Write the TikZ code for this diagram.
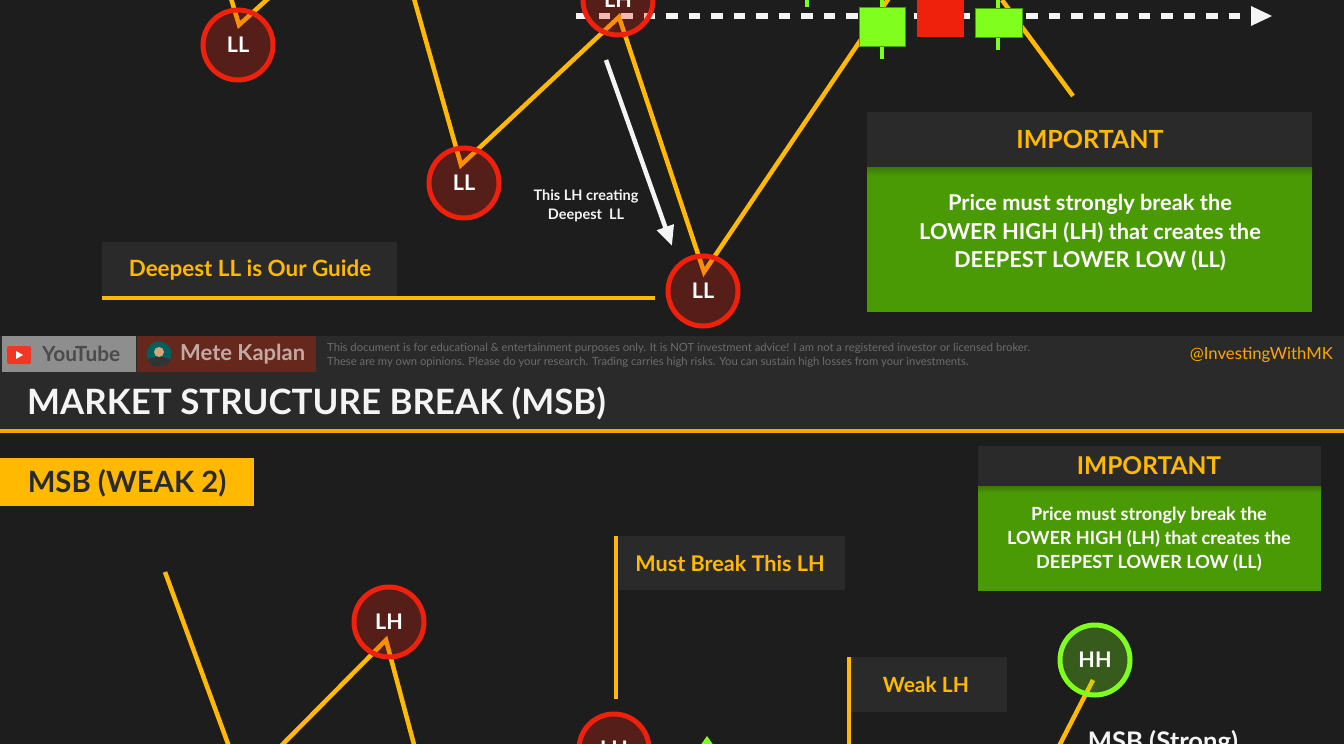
\documentclass[tikz,border=0pt]{standalone}
\usepackage{fontspec}
\setmainfont{Lato}
\usetikzlibrary{arrows.meta}
\definecolor{bgc}{HTML}{1D1D1D}
\definecolor{panel}{HTML}{2A2A2A}
\definecolor{amber}{HTML}{FFB900}
\definecolor{orangeline}{HTML}{FFA500}
\definecolor{gbox}{HTML}{4A9A06}
\definecolor{gshade}{HTML}{3C7A08}
\definecolor{lime}{HTML}{80FF1E}
\definecolor{redc}{HTML}{F0210C}
\definecolor{ytgray}{HTML}{8E8E8E}
\definecolor{mkred}{HTML}{66281C}
\definecolor{discl}{HTML}{6C6C6C}
\definecolor{whitish}{HTML}{F4F4F4}
\tikzset{
 x=1pt,y=-1pt,
 leg/.style={draw=amber,line width=4.5pt},
 bar/.style={draw=amber,line width=4pt},
 bearnode/.style={circle,draw=redc,line width=5pt,fill=redc,fill opacity=.27,draw opacity=1,text opacity=1,minimum size=70pt,inner sep=0pt,text=white,font=\fontsize{21.5}{23}\selectfont\bfseries},
 bullnode/.style={circle,draw=lime,line width=5pt,fill=lime,fill opacity=.27,draw opacity=1,text opacity=1,minimum size=70pt,inner sep=0pt,text=white,font=\fontsize{21.5}{23}\selectfont\bfseries},
 tag/.style={text=amber,font=\fontsize{21}{24}\selectfont\bfseries,inner sep=0pt},
 panelbox/.style={fill=panel,draw=none},
 greenbody/.style={fill=lime,draw=gbox,line width=0.6pt},
 wick/.style={draw=lime,line width=4.6pt},
 impbig/.style={text=white,align=center,font=\fontsize{21.8}{28.4}\selectfont\bfseries,inner sep=0pt},
 impsmall/.style={text=white,align=center,font=\fontsize{18.1}{23.8}\selectfont\bfseries,inner sep=0pt},
 imphead/.style={text=amber,inner sep=0pt,font=\fontsize{25}{28}\selectfont\bfseries},
 note/.style={text=whitish,align=center,font=\fontsize{14.5}{19}\selectfont\bfseries,inner sep=0pt},
 disc/.style={text=discl,anchor=west,inner sep=0pt,font=\fontsize{11.25}{13}\selectfont},
}
\begin{document}
\begin{tikzpicture}
\useasboundingbox (0,0) rectangle (1344,744);
\clip (0,0) rectangle (1344,744);
\fill[bgc] (0,0) rectangle (1344,744);
% coordinates
\coordinate (a0) at (230,-5); \coordinate (a1) at (239,25); \coordinate (a2) at (272,-5);
\coordinate (b0) at (413,-5); \coordinate (b1) at (461,165); \coordinate (b2) at (619,17);
\coordinate (b3) at (704,272); \coordinate (b4) at (891,-5);
\coordinate (c0) at (1002,0); \coordinate (c1) at (1073,96);
\coordinate (d0) at (165,572); \coordinate (d1) at (231,752); \coordinate (d2) at (275,752);
\coordinate (d3) at (386,640); \coordinate (d4) at (416,752);
\coordinate (e0) at (1093,680); \coordinate (e1) at (1056,752);
\coordinate (f0) at (576,16); \coordinate (f1) at (1252,16); \coordinate (f2) at (1272,16);
\coordinate (g0) at (606,60); \coordinate (g1) at (672,246);
% upper chart legs
\draw[leg] (a0) -- (a1) -- (a2);
\draw[leg] (b0) -- (b1) -- (b2) -- (b3) -- (b4);
\draw[leg] (c0) -- (c1);
% dashed level and arrow
\draw[draw=whitish,line width=5.5pt,dash pattern=on 11.5pt off 11pt] (f0) -- (f1);
\fill[whitish] (1251,6) -- (f2) -- (1251,26) -- cycle;
\draw[draw=whitish,line width=4.5pt,-{Triangle[length=20pt,width=17pt]}] (g0) -- (g1);
% candles
\draw[wick] (807,-2) -- (807,7);
\draw[wick] (882,-2) -- (882,59);
\draw[wick] (998,-2) -- (998,50);
\draw[greenbody] (859,7) rectangle (905,46);
\fill[redc] (917,-5) rectangle (964,37);
\draw[greenbody] (975,8) rectangle (1022,37);
% upper nodes
\node[bearnode] (ll1) at (238,45) {LL};
\node[bearnode] (ll2) at (464,183) {LL};
\node[bearnode] (ll3) at (703,291) {LL};
\node[bearnode] (lh1) at (618,0) {LH};
\node[note] (n1) at (586,206) {This LH creating\\Deepest~~LL};
% guide tag
\fill[panelbox] (102,242) rectangle (397,296);
\node[tag,font=\fontsize{22.4}{24}\selectfont\bfseries] (t1) at (250,270) {Deepest LL is Our Guide};
\draw[bar] (102,298) -- (655,298);
% important panel upper
\fill[panelbox] (867,112) rectangle (1312,167);
\fill[gbox] (867,167) rectangle (1312,312);
\shade[top color=gshade,bottom color=gbox] (867,167) rectangle (1312,176);
\node[imphead] (i1) at (1090,139) {IMPORTANT};
\node[impbig] (i2) at (1090,233) {Price must strongly break the\\LOWER HIGH (LH) that creates the\\DEEPEST LOWER LOW (LL)};
% band
\fill[panel] (0,336) rectangle (1344,432);
\fill[ytgray] (2,336) rectangle (136,372);
\fill[mkred] (137,336) rectangle (316,372);
\fill[redc!90!white,rounded corners=2pt] (7,346) rectangle (31,364);
\fill[white] (16,351) -- (23,355) -- (16,359) -- cycle;
\node[text=discl!70!black,anchor=west,inner sep=0pt,font=\fontsize{20.8}{22}\selectfont\bfseries] (yt) at (42,354) {YouTube};
\fill[teal!75!black] (159,354) circle (12.5);
\fill[brown!70!white] (159,352) circle (5);
\fill[black!80] (147.5,360) ..controls (152,356) and (166,356) .. (170.5,360) -- (166,366) -- (152,366) -- cycle;
\node[text=white!60!mkred,anchor=west,inner sep=0pt,font=\fontsize{22}{24}\selectfont\bfseries] (mk) at (180,354) {Mete Kaplan};
\node[disc] (d1t) at (327,348) {This document is for educational \& entertainment purposes only. It is NOT investment advice! I am not a registered investor or licensed broker.};
\node[disc] (d2t) at (327,362) {These are my own opinions. Please do your research. Trading carries high risks. You can sustain high losses from your investments.};
\node[text=orangeline,anchor=east,inner sep=0pt,font=\fontsize{16.7}{18}\selectfont] (ig) at (1333,355) {@InvestingWithMK};
\node[text=whitish,anchor=west,inner sep=0pt,font=\fontsize{34.9}{38}\selectfont\bfseries] (title) at (27,404) {MARKET STRUCTURE BREAK (MSB)};
\draw[draw=orangeline,line width=3.5pt] (0,431) -- (1344,431);
% lower
\fill[amber] (0,458) rectangle (254,506);
\node[text=panel,inner sep=0pt,font=\fontsize{29.3}{31}\selectfont\bfseries] (w2) at (127,483) {MSB (WEAK 2)};
\fill[panelbox] (978,446) rectangle (1321,486);
\fill[gbox] (978,486) rectangle (1321,591);
\shade[top color=gshade,bottom color=gbox] (978,486) rectangle (1321,493);
\node[imphead,font=\fontsize{24.5}{26}\selectfont\bfseries] (i3) at (1149,466) {IMPORTANT};
\node[impsmall] (i4) at (1149,539) {Price must strongly break the\\LOWER HIGH (LH) that creates the\\DEEPEST LOWER LOW (LL)};
\draw[leg] (d0) -- (d1);
\draw[leg] (d2) -- (d3) -- (d4);
\fill[panelbox] (619,536) rectangle (845,590);
\draw[bar] (616,536) -- (616,699);
\node[tag,font=\fontsize{21.6}{24}\selectfont\bfseries] (t2) at (730,564) {Must Break This LH};
\fill[panelbox] (851,657) rectangle (1007,712);
\draw[bar] (849,657) -- (849,750);
\node[tag] (t3) at (926,685) {Weak LH};
\fill[lime] (700,746) -- (707,736) -- (714,746) -- cycle;
\draw[leg] (e0) -- (e1);
\node[bearnode] (lh2) at (389,622) {LH};
\node[bearnode] (lh3) at (614,749) {LH};
\node[bullnode] (hh) at (1095,660) {HH};
\node[text=whitish,inner sep=0pt,font=\fontsize{25.6}{27}\selectfont\bfseries] (ms) at (1163,743) {MSB (Strong)};
\end{tikzpicture}
\end{document}
